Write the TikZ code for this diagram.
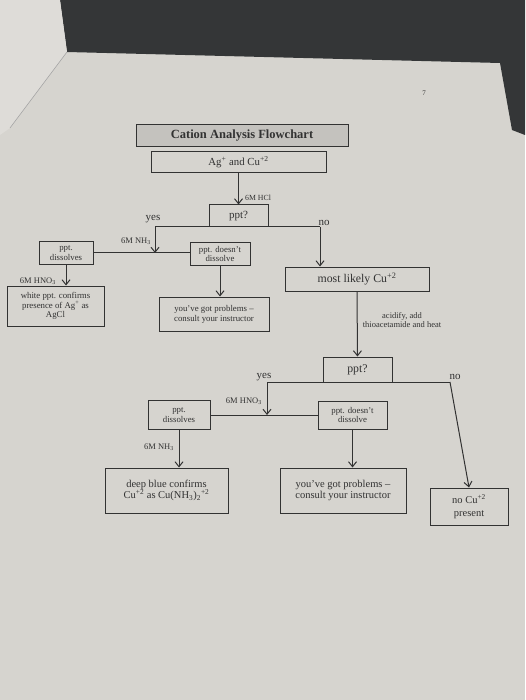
\documentclass[tikz,border=0pt]{standalone}
\usepackage{fontspec}
\setmainfont{Liberation Serif}
\usetikzlibrary{arrows.meta}
\definecolor{pagebg}{RGB}{214,212,207}
\definecolor{leftpage}{RGB}{222,220,216}
\definecolor{darkbg}{RGB}{52,54,55}
\definecolor{ink}{RGB}{50,50,50}
\definecolor{titlefill}{RGB}{196,194,190}
\tikzset{
  box/.style={draw=ink, line width=1pt, rectangle, inner sep=1pt, align=center, text=ink, font=\fontsize{10.5}{11.5}\selectfont},
  smallbox/.style={box, font=\fontsize{8.8}{9.8}\selectfont},
  lbl/.style={text=ink, inner sep=0pt, align=center, font=\fontsize{8.5}{9.5}\selectfont},
  yn/.style={text=ink, inner sep=0pt, font=\fontsize{11}{12}\selectfont},
  conn/.style={draw=ink, line width=1pt},
  arr/.style={conn, -{Straight Barb[length=5pt,width=8pt,line width=1pt]}}
}
\begin{document}
\begin{tikzpicture}[x=1pt,y=-1pt]
\useasboundingbox (0,0) rectangle (525,700);
\fill[pagebg] (0,0) rectangle (525,700);
\fill[darkbg] (60,0) -- (525,0) -- (525,135) -- (512,130) -- (500,63) -- (67,52) -- cycle;
\fill[leftpage] (0,0) -- (60,0) -- (67,52) -- (10,128) -- (0,135) -- cycle;
\draw[gray!70, line width=0.6pt] (67,52) -- (10,128);

\node[text=ink, inner sep=0pt, font=\fontsize{7}{8}\selectfont] (pg) at (424,93) {7};

% nodes
\node[box, fill=titlefill, minimum width=212pt, minimum height=22pt, font=\bfseries\fontsize{12.5}{14}\selectfont] (title) at (242,135.5) {Cation Analysis Flowchart};
\node[box, minimum width=175pt, minimum height=21pt, font=\fontsize{10.8}{12}\selectfont] (ag) at (238.5,162.5) {Ag\textsuperscript{+} and Cu\textsuperscript{+2}};
\node[box, minimum width=59pt, minimum height=22pt, font=\fontsize{11}{12}\selectfont] (ppt1) at (238.5,216) {ppt?};
\node[smallbox, minimum width=54pt, minimum height=22pt] (pd1) at (66,253) {ppt.\\dissolves};
\node[smallbox, minimum width=60pt, minimum height=23pt] (pnd1) at (220,254) {ppt. doesn't\\dissolve};
\node[smallbox, minimum width=97pt, minimum height=40pt] (white) at (55.5,306) {white ppt. confirms\\presence of Ag\textsuperscript{+} as\\AgCl};
\node[smallbox, minimum width=110pt, minimum height=34pt] (prob1) at (214,314) {you've got problems --\\consult your instructor};
\node[box, font=\fontsize{11.8}{13}\selectfont, minimum width=144pt, minimum height=24pt] (likely) at (357,279) {most likely Cu\textsuperscript{+2}};
\node[box, font=\fontsize{11.8}{13}\selectfont, minimum width=69pt, minimum height=25pt] (ppt2) at (357.5,369.5) {ppt?};
\node[smallbox, minimum width=62pt, minimum height=29pt] (pd2) at (179,415) {ppt.\\dissolves};
\node[smallbox, minimum width=69pt, minimum height=28pt] (pnd2) at (352.5,415) {ppt. doesn't\\dissolve};
\node[box, minimum width=123pt, minimum height=45pt] (blue) at (166.5,490.5) {deep blue confirms\\Cu\textsuperscript{+2} as Cu(NH\textsubscript{3})\textsubscript{2}\textsuperscript{+2}};
\node[box, minimum width=126pt, minimum height=45pt] (prob2) at (343,490.5) {you've got problems --\\consult your instructor};
\node[box, font=\fontsize{10.5}{12.5}\selectfont, minimum width=78pt, minimum height=37pt] (nocu) at (469,506.5) {no Cu\textsuperscript{+2}\\present};

% first level
\draw[arr] (ag.south) -- (ppt1.north);
\node[lbl, anchor=west, font=\fontsize{7.8}{8.5}\selectfont] (hcl) at (245,198) {6M HCl};
\coordinate (b1L) at (155,227);
\coordinate (b1R) at (320,227);
\coordinate (j1) at (155,253);
\draw[conn] (b1L) -- (b1R);
\draw[arr] (b1L) -- (j1);
\draw[arr] (b1R) -- (b1R |- likely.north);
\node[yn] (yes1) at (153,219) {yes};
\node[yn] (no1) at (324,223) {no};
\node[lbl, anchor=east] (nh3a) at (151,241) {6M NH\textsubscript{3}};
\draw[conn] (pd1.east) -- (pnd1.west |- pd1.east);
\draw[arr] (pd1.south) -- (pd1.south |- white.north);
\node[lbl, anchor=east] (hno3a) at (56,281) {6M HNO\textsubscript{3}};
\draw[arr] (pnd1.south) -- (pnd1.south |- prob1.north);

% second level
\draw[arr] (likely.south) -- (ppt2.north);
\node[lbl] (acid) at (402,320) {acidify, add\\thioacetamide and heat};
\coordinate (b2L) at (267,382);
\coordinate (b2R) at (450,382);
\coordinate (j2) at (267,415);
\draw[conn] (b2L) -- (b2R);
\draw[arr] (b2L) -- (j2);
\draw[arr] (b2R) -- (nocu.north);
\node[yn] (yes2) at (264,377) {yes};
\node[yn] (no2) at (455,377) {no};
\node[lbl, anchor=east] (hno3b) at (262,401) {6M HNO\textsubscript{3}};
\draw[conn] (pd2.east) -- (pnd2.west);
\draw[arr] (pd2.south) -- (pd2.south |- blue.north);
\node[lbl, anchor=east] (nh3b) at (174,447) {6M NH\textsubscript{3}};
\draw[arr] (pnd2.south) -- (pnd2.south |- prob2.north);
\end{tikzpicture}
\end{document}
